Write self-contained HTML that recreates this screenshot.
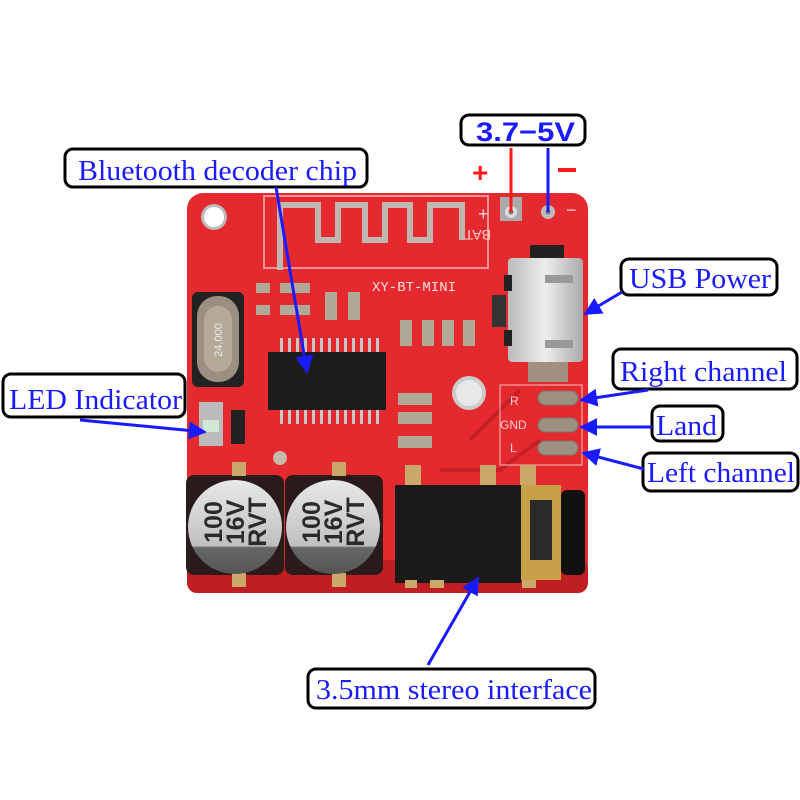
<!DOCTYPE html>
<html><head><meta charset="utf-8"><style>
html,body{margin:0;padding:0;background:#fff;width:800px;height:800px;overflow:hidden}
</style></head><body>
<svg width="800" height="800" viewBox="0 0 800 800" xmlns="http://www.w3.org/2000/svg">
<defs>
<marker id="ah" viewBox="0 0 10 10" refX="9" refY="5" markerWidth="6" markerHeight="6" orient="auto-start-reverse" markerUnits="strokeWidth">
<path d="M0,0 L10,5 L0,10 z" fill="#1a1aff"/></marker>
<linearGradient id="cap" x1="0" y1="0" x2="0" y2="1"><stop offset="0" stop-color="#e8e8e8"/><stop offset="0.7" stop-color="#c0c0c0"/><stop offset="0.72" stop-color="#666"/><stop offset="1" stop-color="#555"/></linearGradient>
<linearGradient id="usb" x1="0" y1="0" x2="1" y2="0"><stop offset="0" stop-color="#bbb"/><stop offset="0.5" stop-color="#eee"/><stop offset="1" stop-color="#aaa"/></linearGradient>
</defs>
<!-- PCB -->
<rect x="187" y="193" width="401" height="400" rx="16" fill="#e42a2e"/>
<rect x="187" y="560" width="401" height="33" rx="10" fill="#c01e22"/>
<path d="M470 440 L520 390 M440 470 L500 470 L540 440" stroke="#c81f24" stroke-width="4" fill="none"/>
<!-- hole -->
<circle cx="214" cy="217" r="13" fill="#bbb"/><circle cx="214" cy="217" r="10" fill="#fff"/>
<!-- antenna -->
<rect x="264" y="196" width="224" height="72" fill="none" stroke="#f3b6b6" stroke-width="1.5"/>
<path d="M280 270 V205 H318 V240 H338 V205 H365 V240 H385 V205 H410 V240 H430 V205 H462 V240" fill="none" stroke="#bfb8b0" stroke-width="6"/>
<!-- BAT area -->
<rect x="500" y="197" width="22" height="24" fill="#aaa"/><circle cx="511" cy="212" r="6" fill="#ddd"/><circle cx="511" cy="212" r="2.5" fill="#777"/>
<circle cx="548" cy="212" r="7" fill="#bbb"/><circle cx="548" cy="212" r="2.5" fill="#777"/>
<text x="478" y="220" font-family="Liberation Sans,sans-serif" font-size="18" fill="#f6d0d0">+</text>
<text x="566" y="216" font-family="Liberation Sans,sans-serif" font-size="18" fill="#f6d0d0">−</text>
<text x="515" y="240" font-family="Liberation Sans,sans-serif" font-size="14" fill="#f6d0d0" transform="rotate(180 503 235)">BAT</text>
<rect x="530" y="245" width="34" height="14" fill="#222"/>
<text x="372" y="291" font-family="Liberation Mono,monospace" font-size="14" fill="#f6e0e0">XY-BT-MINI</text>
<!-- USB -->
<rect x="508" y="258" width="75" height="104" rx="4" fill="url(#usb)"/>
<rect x="504" y="275" width="8" height="16" fill="#222"/><rect x="504" y="330" width="8" height="16" fill="#222"/>
<rect x="545" y="275" width="28" height="8" fill="#999"/><rect x="545" y="340" width="28" height="8" fill="#999"/>
<rect x="492" y="295" width="14" height="32" fill="#333"/>
<rect x="528" y="362" width="40" height="20" fill="#a09080"/>
<!-- crystal -->
<rect x="192" y="292" width="52" height="95" rx="6" fill="#222"/>
<rect x="197" y="296" width="42" height="86" rx="20" fill="#9a8f80"/>
<rect x="204" y="306" width="28" height="66" rx="14" fill="#b5aa98"/>
<text x="222" y="340" font-family="Liberation Sans,sans-serif" font-size="11" fill="#eee" text-anchor="middle" transform="rotate(-90 222 340)">24.000</text>
<!-- small components -->
<g fill="#b0a898"><rect x="256" y="283" width="14" height="10"/><rect x="256" y="305" width="14" height="10"/><rect x="280" y="283" width="30" height="10"/><rect x="280" y="305" width="30" height="10"/>
<rect x="325" y="292" width="12" height="28"/><rect x="348" y="292" width="12" height="28"/>
<rect x="400" y="320" width="12" height="26"/><rect x="422" y="320" width="12" height="26"/><rect x="442" y="320" width="12" height="26"/><rect x="463" y="320" width="12" height="26"/>
<rect x="398" y="393" width="34" height="12"/><rect x="398" y="412" width="34" height="12"/><rect x="398" y="436" width="34" height="12"/></g>
<!-- chip pins -->
<g fill="#c8c8c8">
<rect x="280" y="338" width="3" height="14"/><rect x="288" y="338" width="3" height="14"/><rect x="296" y="338" width="3" height="14"/><rect x="304" y="338" width="3" height="14"/><rect x="312" y="338" width="3" height="14"/><rect x="320" y="338" width="3" height="14"/><rect x="328" y="338" width="3" height="14"/><rect x="336" y="338" width="3" height="14"/><rect x="344" y="338" width="3" height="14"/><rect x="352" y="338" width="3" height="14"/><rect x="360" y="338" width="3" height="14"/><rect x="368" y="338" width="3" height="14"/><rect x="376" y="338" width="3" height="14"/>
<rect x="280" y="410" width="3" height="14"/><rect x="288" y="410" width="3" height="14"/><rect x="296" y="410" width="3" height="14"/><rect x="304" y="410" width="3" height="14"/><rect x="312" y="410" width="3" height="14"/><rect x="320" y="410" width="3" height="14"/><rect x="328" y="410" width="3" height="14"/><rect x="336" y="410" width="3" height="14"/><rect x="344" y="410" width="3" height="14"/><rect x="352" y="410" width="3" height="14"/><rect x="360" y="410" width="3" height="14"/><rect x="368" y="410" width="3" height="14"/><rect x="376" y="410" width="3" height="14"/>
</g>
<rect x="268" y="352" width="118" height="58" fill="#1c1c1c"/>
<!-- via -->
<circle cx="469" cy="393" r="17" fill="#ccc"/><circle cx="469" cy="393" r="13" fill="#e8e8e8"/>
<circle cx="280" cy="458" r="7" fill="#c8b8a8"/>
<!-- pads R GND L -->
<rect x="500" y="385" width="82" height="80" fill="none" stroke="#f3c0c0" stroke-width="1"/>
<text x="510" y="405" font-family="Liberation Sans,sans-serif" font-size="12" fill="#f6d0d0">R</text>
<text x="500" y="429" font-family="Liberation Sans,sans-serif" font-size="12" fill="#f6d0d0">GND</text>
<text x="510" y="452" font-family="Liberation Sans,sans-serif" font-size="12" fill="#f6d0d0">L</text>
<g fill="#9c9080" stroke="#777"><rect x="538" y="391" width="40" height="14" rx="7"/><rect x="538" y="418" width="40" height="14" rx="7"/><rect x="538" y="441" width="40" height="14" rx="7"/></g>
<!-- LED -->
<rect x="199" y="402" width="24" height="44" fill="#bbb"/><rect x="203" y="420" width="16" height="12" fill="#cfe8d8"/>
<rect x="231" y="410" width="14" height="34" fill="#222"/>
<!-- capacitors -->
<rect x="186" y="475" width="98" height="100" rx="8" fill="#2a1a1a"/>
<rect x="285" y="475" width="98" height="100" rx="8" fill="#2a1a1a"/>
<rect x="232" y="462" width="14" height="14" fill="#c9a86a"/><rect x="332" y="462" width="14" height="14" fill="#c9a86a"/>
<rect x="232" y="573" width="14" height="14" fill="#c9a86a"/><rect x="332" y="573" width="14" height="14" fill="#c9a86a"/>
<circle cx="235" cy="527" r="47" fill="url(#cap)"/>
<circle cx="333" cy="527" r="47" fill="url(#cap)"/>
<g font-family="Liberation Sans,sans-serif" font-weight="bold" font-size="25" fill="#2a2a2a" text-anchor="middle">
<text transform="translate(222,522) rotate(-90)">100</text><text transform="translate(244,522) rotate(-90)">16V</text><text transform="translate(266,522) rotate(-90)">RVT</text>
<text transform="translate(320,522) rotate(-90)">100</text><text transform="translate(342,522) rotate(-90)">16V</text><text transform="translate(364,522) rotate(-90)">RVT</text>
</g>
<!-- jack -->
<rect x="405" y="465" width="16" height="22" fill="#c9a86a"/><rect x="480" y="465" width="16" height="22" fill="#c9a86a"/><rect x="520" y="465" width="16" height="22" fill="#c9a86a"/>
<rect x="395" y="485" width="126" height="98" fill="#1a1a1a"/>
<rect x="521" y="485" width="40" height="95" fill="#c8a048"/>
<rect x="530" y="500" width="22" height="60" fill="#2a2a2a"/>
<rect x="561" y="490" width="24" height="85" rx="6" fill="#111"/>
<rect x="405" y="580" width="12" height="8" fill="#c9a86a"/><rect x="430" y="580" width="14" height="8" fill="#c9a86a"/><rect x="522" y="580" width="14" height="8" fill="#c9a86a"/>
<!-- labels -->
<g fill="#fff" stroke="#000" stroke-width="3">
<rect x="461" y="115" width="124" height="30" rx="8"/>
<rect x="65" y="149" width="302" height="38" rx="8"/>
<rect x="621" y="259" width="156" height="36" rx="8"/>
<rect x="613" y="349" width="184" height="40" rx="8"/>
<rect x="652" y="406" width="71" height="35" rx="8"/>
<rect x="643" y="453" width="155" height="38" rx="8"/>
<rect x="3" y="374" width="182" height="43" rx="8"/>
<rect x="308" y="669" width="287" height="39" rx="8"/>
</g>
<g font-family="Liberation Serif,serif" font-size="29" fill="#1a1aff" lengthAdjust="spacingAndGlyphs">
<text x="78" y="180" textLength="279" lengthAdjust="spacingAndGlyphs">Bluetooth decoder chip</text>
<text x="629" y="288" textLength="142" lengthAdjust="spacingAndGlyphs">USB Power</text>
<text x="620" y="381" textLength="167" lengthAdjust="spacingAndGlyphs">Right channel</text>
<text x="656" y="435" textLength="61" lengthAdjust="spacingAndGlyphs">Land</text>
<text x="647" y="482" textLength="148" lengthAdjust="spacingAndGlyphs">Left channel</text>
<text x="9" y="409" textLength="173" lengthAdjust="spacingAndGlyphs">LED Indicator</text>
<text x="316" y="699" textLength="276" lengthAdjust="spacingAndGlyphs">3.5mm stereo interface</text>
</g>
<text x="476" y="141" font-family="Liberation Sans,sans-serif" font-weight="bold" font-size="27" fill="#1a1aff" textLength="99" lengthAdjust="spacingAndGlyphs">3.7−5V</text>
<text x="472" y="182" font-family="Liberation Sans,sans-serif" font-weight="bold" font-size="28" fill="#ff1a1a">+</text>
<rect x="558" y="168" width="18" height="4" fill="#ff1a1a"/>
<line x1="511" y1="148" x2="511" y2="212" stroke="#ff1a1a" stroke-width="3"/>
<line x1="548" y1="148" x2="548" y2="212" stroke="#1a1aff" stroke-width="3"/>
<!-- arrows -->
<g stroke="#1a1aff" stroke-width="3" fill="none" marker-end="url(#ah)">
<line x1="276" y1="187" x2="307" y2="372"/>
<line x1="80" y1="420" x2="205" y2="432"/>
<line x1="622" y1="292" x2="585" y2="314"/>
<line x1="648" y1="390" x2="581" y2="400"/>
<line x1="652" y1="427" x2="581" y2="427"/>
<line x1="644" y1="469" x2="583" y2="453"/>
<line x1="428" y1="665" x2="478" y2="578"/>
</g>
</svg>
</body></html>
